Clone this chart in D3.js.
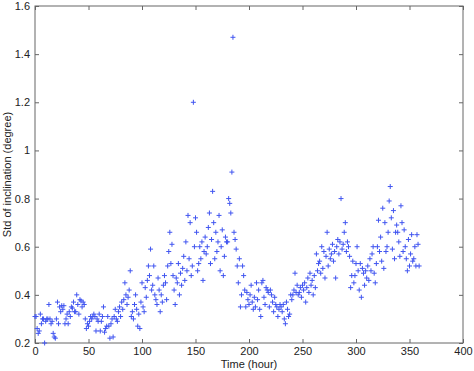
<!DOCTYPE html>
<html>
<head>
<meta charset="utf-8">
<script src="https://d3js.org/d3.v7.min.js"></script>
<style>
  body { margin: 0; background: #fff; }
  text { font-family: "Liberation Sans", Arial, sans-serif; }
</style>
</head>
<body>
<div id="viz"></div>
<script>
var width = 474
var height = 371

// hours 0..359, one sample per hour
var stdValues = [
  0.31, 0.31, 0.26, 0.24, 0.25, 0.32, 0.28, 0.30, 0.30, 0.20,
  0.29, 0.30, 0.30, 0.36, 0.30, 0.28, 0.29, 0.24, 0.225, 0.22,
  0.30, 0.37, 0.28, 0.35, 0.33, 0.355, 0.34, 0.355, 0.28, 0.30,
  0.32, 0.28, 0.33, 0.31, 0.35, 0.345, 0.37, 0.33, 0.33, 0.40,
  0.36, 0.32, 0.38, 0.375, 0.35, 0.37, 0.36, 0.30, 0.26, 0.28,
  0.27, 0.29, 0.31, 0.30, 0.31, 0.32, 0.31, 0.25, 0.30, 0.29,
  0.32, 0.25, 0.29, 0.31, 0.35, 0.245, 0.26, 0.27, 0.31, 0.27,
  0.22, 0.28, 0.30, 0.225, 0.31, 0.34, 0.30, 0.29, 0.33, 0.35,
  0.31, 0.37, 0.34, 0.38, 0.45, 0.40, 0.36, 0.39, 0.42, 0.50,
  0.31, 0.33, 0.30, 0.36, 0.40, 0.34, 0.27, 0.32, 0.26, 0.37,
  0.45, 0.35, 0.33, 0.43, 0.39, 0.46, 0.52, 0.48, 0.59, 0.42,
  0.44, 0.52, 0.40, 0.38, 0.36, 0.47, 0.42, 0.33, 0.40, 0.37,
  0.44, 0.48, 0.45, 0.38, 0.52, 0.58, 0.66, 0.53, 0.61, 0.48,
  0.42, 0.36, 0.47, 0.45, 0.53, 0.40, 0.49, 0.44, 0.51, 0.56,
  0.46, 0.62, 0.50, 0.73, 0.55, 0.70, 0.48, 0.52, 1.20, 0.60,
  0.72, 0.66, 0.50, 0.53, 0.60, 0.55, 0.62, 0.46, 0.58, 0.64,
  0.57, 0.60, 0.68, 0.74, 0.53, 0.63, 0.83, 0.70, 0.55, 0.66,
  0.58, 0.62, 0.73, 0.50, 0.60, 0.67, 0.48, 0.56, 0.64, 0.62,
  0.62, 0.80, 0.78, 0.74, 0.91, 1.47, 0.66, 0.63, 0.59, 0.52,
  0.45, 0.55, 0.35, 0.40, 0.52, 0.48, 0.42, 0.35, 0.41, 0.38,
  0.36, 0.40, 0.44, 0.37, 0.34, 0.39, 0.35, 0.45, 0.38, 0.42,
  0.34, 0.31, 0.45, 0.46, 0.39, 0.36, 0.43, 0.42, 0.41, 0.35,
  0.42, 0.40, 0.37, 0.33, 0.39, 0.36, 0.35, 0.31, 0.34, 0.36,
  0.35, 0.33, 0.36, 0.30, 0.28, 0.37, 0.34, 0.31, 0.32, 0.40,
  0.38, 0.40, 0.42, 0.49, 0.41, 0.44, 0.40, 0.41, 0.43, 0.39,
  0.44, 0.42, 0.45, 0.37, 0.43, 0.47, 0.41, 0.49, 0.44, 0.46,
  0.40, 0.48, 0.43, 0.57, 0.50, 0.53, 0.54, 0.49, 0.60, 0.51,
  0.58, 0.47, 0.56, 0.66, 0.52, 0.59, 0.55, 0.57, 0.61, 0.54,
  0.58, 0.47, 0.60, 0.63, 0.57, 0.62, 0.80, 0.59, 0.61, 0.66,
  0.70, 0.58, 0.62, 0.60, 0.56, 0.43, 0.48, 0.54, 0.45, 0.48,
  0.53, 0.60, 0.50, 0.42, 0.53, 0.39, 0.51, 0.49, 0.44, 0.50,
  0.47, 0.52, 0.46, 0.55, 0.50, 0.57, 0.60, 0.49, 0.45, 0.53,
  0.60, 0.71, 0.58, 0.64, 0.54, 0.76, 0.51, 0.70, 0.58, 0.60,
  0.66, 0.79, 0.85, 0.72, 0.59, 0.75, 0.55, 0.66, 0.69, 0.66,
  0.62, 0.56, 0.77, 0.70, 0.58, 0.67, 0.60, 0.55, 0.50, 0.63,
  0.52, 0.57, 0.65, 0.54, 0.55, 0.60, 0.52, 0.65, 0.61, 0.52
]
var hours = stdValues.map(function(d, i) { return i })

var xTicks = [0, 50, 100, 150, 200, 250, 300, 350, 400]
var yTicks = [0.2, 0.4, 0.6, 0.8, 1, 1.2, 1.4, 1.6]
var xLabel = "Time (hour)"
var yLabel = "Std of inclination (degree)"

var margin = {top: 6, right: 11, bottom: 28, left: 35}
var w = width - margin.left - margin.right
var h = height - margin.top - margin.bottom

var svg = d3.select("#viz")
  .append("svg")
  .attr("width", width)
  .attr("height", height)

var g = svg.append("g")
  .attr("transform", "translate(" + margin.left + "," + margin.top + ")")

var x = d3.scaleLinear().domain([0, 400]).range([0, w])
var y = d3.scaleLinear().domain([0.2, 1.6]).range([h, 0])

var fmt = function(d) { return d3.format("")(+d.toFixed(1)) }

// axes with inward ticks, mirrored like a matlab box
g.append("g")
  .attr("transform", "translate(0," + h + ")")
  .call(d3.axisBottom(x).tickValues(xTicks).tickSizeInner(-4).tickSizeOuter(0).tickPadding(4).tickFormat(fmt))
g.append("g")
  .call(d3.axisTop(x).tickValues(xTicks).tickSizeInner(-4).tickSizeOuter(0).tickFormat(""))
g.append("g")
  .call(d3.axisLeft(y).tickValues(yTicks).tickSizeInner(-4).tickSizeOuter(0).tickPadding(5).tickFormat(fmt))
g.append("g")
  .attr("transform", "translate(" + w + ",0)")
  .call(d3.axisRight(y).tickValues(yTicks).tickSizeInner(-4).tickSizeOuter(0).tickFormat(""))

g.selectAll(".domain").remove()
g.selectAll(".tick line").attr("stroke", "#666")
g.selectAll(".tick text").attr("fill", "#222").style("font-size", "11px")

g.append("rect")
  .attr("width", w)
  .attr("height", h)
  .attr("fill", "none")
  .attr("stroke", "#666")
  .attr("stroke-width", 1)

// plus markers
var s = 2.5
g.append("g")
  .selectAll("path")
  .data(hours)
  .enter().append("path")
    .attr("d", function(d, i) {
      var px = x(d), py = y(stdValues[i])
      return "M" + (px - s) + "," + py + "H" + (px + s) + "M" + px + "," + (py - s) + "V" + (py + s)
    })
    .attr("stroke", "#4055f0")
    .attr("stroke-width", 1)
    .attr("fill", "none")

svg.append("text")
  .attr("x", margin.left + w / 2)
  .attr("y", height - 3)
  .attr("text-anchor", "middle")
  .style("font-size", "11px")
  .attr("fill", "#222")
  .text(xLabel)

svg.append("text")
  .attr("transform", "translate(11," + (margin.top + h / 2) + ") rotate(-90)")
  .attr("text-anchor", "middle")
  .style("font-size", "11px")
  .attr("fill", "#222")
  .text(yLabel)
</script>
</body>
</html>
